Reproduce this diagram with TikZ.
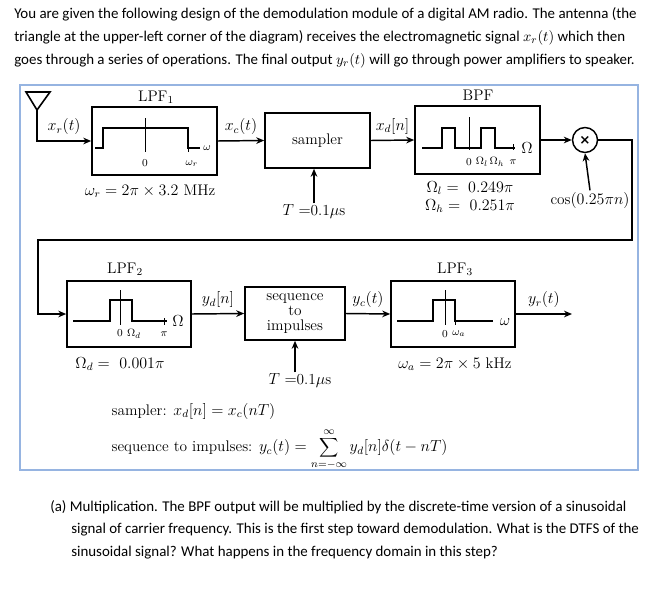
\documentclass[tikz,border=0pt]{standalone}
\usepackage{fontspec}
\newfontfamily\carl{Carlito}
\newfontfamily\djv{DejaVu Sans}
\usetikzlibrary{arrows.meta}
\begin{document}
\begin{tikzpicture}[x=0.75pt,y=-0.75pt,
  blk/.style={draw,line width=1.2pt},
  wire/.style={line width=1.1pt},
  arr/.style={wire,-{Stealth[length=6pt,width=5pt]}},
  plot/.style={line width=1pt},
  thinax/.style={line width=0.4pt},
  txt/.style={font=\carl\fontsize{11.2}{12}\selectfont,anchor=west,inner sep=0pt},
  lab/.style={font=\fontsize{11.5}{12}\selectfont,inner sep=1pt},
  sm/.style={font=\fontsize{8.5}{9}\selectfont,inner sep=0pt}]
\useasboundingbox (0,0) rectangle (667,592);
\fill[white] (0,0) rectangle (667,592);
% top text
\node[txt] (t1) at (14,14) {You are given the following design of the demodulation module of a digital AM radio. The antenna (the};
\node[txt] (t2) at (14,38) {triangle at the upper-left corner of the diagram) receives the electromagnetic signal $x_r(t)$ which then};
\node[txt] (t3) at (14,61) {goes through a series of operations. The final output $y_r(t)$ will go through power amplifiers to speaker.};
% frame
\draw[draw={rgb,255:red,150;green,180;blue,225},line width=0.8pt] (20,85) rectangle (638,470);
% antenna
\coordinate (ap) at (37,110);
\draw[line width=1.2pt] (26,92) -- (50,92) -- (ap) -- cycle;
% LPF1
\node[blk,minimum width=125*0.75pt,minimum height=68*0.75pt] (lpf1) at (154.5,141) {};
\node[lab] (lpf1l) at (156,97) {LPF$_1$};
\draw[arr] (ap) |- (lpf1.west) node[lab,pos=0.75,above=3pt] (xr) {$x_r(t)$};
\draw[plot] (95,148) -- (103,148) -- (103,128) -- (188,128) -- (188,148) -- (200,148);
\draw[thinax] (145,118) -- (145,152);
\draw[thinax] (188,144) -- (188,152);
\node[sm] (l0) at (145,163) {$0$};
\node[sm] (lwr) at (192,164) {$\omega_r$};
\node[sm] (lw) at (207,148) {$\omega$};
\node[lab] (wr) at (150,191) {$\omega_r = 2\pi\times 3.2$ MHz};
% sampler
\node[blk,minimum width=105*0.75pt,minimum height=55*0.75pt,font=\fontsize{11.5}{12}\selectfont] (samp) at (317.5,140.5) {sampler};
\draw[arr] (lpf1.east) -- (samp.west) node[lab,midway,above=3pt] (xc) {$x_c(t)$};
\node[lab] (T1) at (314,212) {$T = $0.1$\mu$s};
\draw[arr] (T1.north) -- (T1.north|-samp.south);
% BPF
\node[blk,minimum width=125*0.75pt,minimum height=68*0.75pt] (bpf) at (477.5,140) {};
\node[lab] (bpfl) at (478,95) {BPF};
\draw[arr] (samp.east) -- (bpf.west) node[lab,midway,above=3pt] (xd) {$x_d[n]$};
\draw[plot] (422,148) -- (442,148) -- (442,128) -- (455,128) -- (455,148) -- (481,148) -- (481,128) -- (495,128) -- (495,148) -- (515,148);
\draw[thinax] (469,117) -- (469,150);
\draw[thinax] (513,144) -- (513,150);
\node[sm] (b0) at (469,162) {$0$};
\node[sm] (bl) at (482,162) {$\Omega_l$};
\node[sm] (bh) at (497,162) {$\Omega_h$};
\node[sm] (bpi) at (513,162) {$\pi$};
\node[lab] (bO) at (527,148) {$\Omega$};
\node[lab] (Ol) at (470,188) {$\Omega_l = \ 0.249\pi$};
\node[lab] (Oh) at (470,206) {$\Omega_h = \ 0.251\pi$};
% multiplier
\node[draw,circle,line width=1.1pt,minimum size=25*0.75pt,inner sep=0pt,font=\djv\bfseries\fontsize{10}{10}\selectfont] (mul) at (585,140) {×};
\draw[arr] (bpf.east) -- (mul.west);
\node[lab] (cos) at (590,200) {$\cos(0.25\pi n)$};
\draw[arr] (cos.north) -- (mul.south);
% LPF2
\node[blk,minimum width=124*0.75pt,minimum height=66*0.75pt] (lpf2) at (129,314) {};
\node[lab] (lpf2l) at (125,269) {LPF$_2$};
\coordinate (c1) at (632,240);
\draw[arr] (mul.east) -| (c1) -| (38,290) |- (lpf2.west);
\draw[plot] (73,321) -- (110,321) -- (110,300) -- (132,300) -- (132,321) -- (167,321);
\draw[thinax] (120,290) -- (120,325);
\draw[thinax] (164,318) -- (164,325);
\node[sm] (d0) at (120,333) {$0$};
\node[sm] (dd) at (134,334) {$\Omega_d$};
\node[sm] (dpi) at (164,334) {$\pi$};
\node[lab] (dO) at (178,321) {$\Omega$};
\node[lab] (Od) at (120,364) {$\Omega_d = \ 0.001\pi$};
% seq to impulses
\node[blk,minimum width=100*0.75pt,minimum height=53*0.75pt,align=center,font=\fontsize{11.5}{11}\selectfont] (seq) at (295,313.5) {sequence\\to\\impulses};
\draw[arr] (lpf2.east) -- (seq.west) node[lab,midway,above=3pt] (yd) {$y_d[n]$};
\node[lab] (T2) at (300,381) {$T = $0.1$\mu$s};
\draw[arr] (T2.north -| seq.south) -- (seq.south);
% LPF3
\node[blk,minimum width=124*0.75pt,minimum height=66*0.75pt] (lpf3) at (453,314) {};
\node[lab] (lpf3l) at (455,269) {LPF$_3$};
\draw[arr] (seq.east) -- (lpf3.west) node[lab,midway,above=3pt] (yc) {$y_c(t)$};
\draw[plot] (397,321) -- (433,321) -- (433,300) -- (455,300) -- (455,321) -- (493,321);
\draw[thinax] (445,290) -- (445,325);
\draw[thinax] (455,318) -- (455,325);
\node[sm] (a0) at (445,334) {$0$};
\node[sm] (aa) at (459,334) {$\omega_a$};
\node[lab] (aw) at (505,322) {$\omega$};
\node[lab] (wa) at (455,364) {$\omega_a = 2\pi\times 5$ kHz};
\coordinate (yout) at (572,314);
\draw[arr] (lpf3.east) -- (yout) node[lab,midway,above=3pt] (yr) {$y_r(t)$};
% equations
\node[lab,anchor=west] (e1) at (110,411) {sampler: $x_d[n] = x_c(nT)$};
\node[lab,anchor=west] (e2) at (110,449) {sequence to impulses: $y_c(t) = \displaystyle\sum_{n=-\infty}^{\infty} y_d[n]\delta(t-nT)$};
% bottom text
\node[txt] (q1) at (50,507) {(a) Multiplication. The BPF output will be multiplied by the discrete-time version of a sinusoidal};
\node[txt] (q2) at (71,530) {signal of carrier frequency. This is the first step toward demodulation. What is the DTFS of the};
\node[txt] (q3) at (71,553) {sinusoidal signal? What happens in the frequency domain in this step?};
\end{tikzpicture}
\end{document}
